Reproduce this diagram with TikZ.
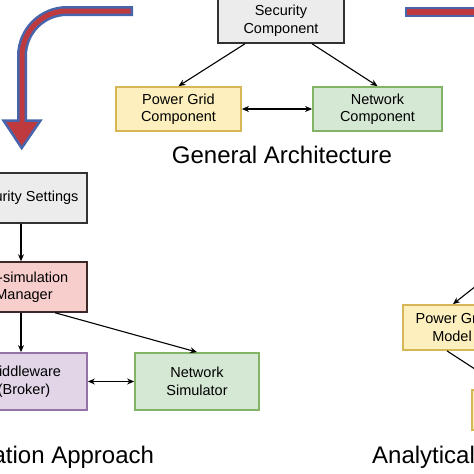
\documentclass[tikz,border=0pt]{standalone}
\usepackage{fontspec}
\setmainfont{Liberation Sans}
\usetikzlibrary{calc,arrows.meta}
\definecolor{graybg}{RGB}{236,236,236}
\definecolor{grayline}{RGB}{50,50,50}
\definecolor{yellowbg}{RGB}{253,240,190}
\definecolor{yellowline}{RGB}{214,182,86}
\definecolor{greenbg}{RGB}{213,232,212}
\definecolor{greenline}{RGB}{130,179,102}
\definecolor{pinkbg}{RGB}{248,206,204}
\definecolor{pinkline}{RGB}{60,40,40}
\definecolor{purplebg}{RGB}{225,213,231}
\definecolor{purpleline}{RGB}{150,115,166}
\definecolor{flowred}{RGB}{190,58,62}
\definecolor{flowblue}{RGB}{72,101,172}
\tikzset{
	comp/.style={inner sep=0, align=center, font=\fontsize{14.5}{17.5}\selectfont},
	graycomp/.style={comp, fill=graybg, draw=grayline, line width=1.5pt},
	yellowcomp/.style={comp, fill=yellowbg, draw=yellowline, line width=1.8pt},
	greencomp/.style={comp, fill=greenbg, draw=greenline, line width=1.8pt},
	pinkcomp/.style={comp, fill=pinkbg, draw=pinkline, line width=1.5pt},
	purplecomp/.style={comp, fill=purplebg, draw=purpleline, line width=1.8pt},
	link/.style={line width=1.1pt, -{Stealth[length=7pt,width=6pt]}},
	duallink/.style={line width=1.1pt, {Stealth[length=7pt,width=6pt]}-{Stealth[length=7pt,width=6pt]}},
	heading/.style={inner sep=0, font=\fontsize{24}{28}\selectfont},
}
\begin{document}
\begin{tikzpicture}[x=1pt, y=-1pt]
		%%%%% START %%%%%
		\useasboundingbox (0, 0) rectangle (474, 474);
		\clip (0, 0) rectangle (474, 474);
		
		% flow arrows
		\draw[line width=10pt, color=flowblue, rounded corners=45pt] (133, 11) -- (22, 11) -- (22, 121);
		\draw[line width=2.5pt, color=flowblue, fill=flowred, line join=miter] (3.5, 120.5) -- (40.5, 120.5) -- (21.7, 148) -- cycle;
		\draw[line width=5pt, color=flowred, rounded corners=45pt] (130.5, 11) -- (22, 11) -- (22, 124);
		
		\draw[line width=10pt, color=flowblue] (405, 12) -- (480, 12);
		\draw[line width=6pt, color=flowred] (407, 12) -- (480, 12);
		
		% general architecture
		\node[graycomp, minimum width=126pt, minimum height=44pt] (seccomp) at (281, 21) {Security\\Component};
		\node[yellowcomp, minimum width=125pt, minimum height=44pt] (pgcomp) at (178.5, 109) {Power Grid\\Component};
		\node[greencomp, minimum width=129pt, minimum height=44pt] (netcomp) at (377.5, 109) {Network\\Component};
		
		\draw[link] ($(seccomp.south)+(-36, 0)$) -- (pgcomp.north);
		\draw[link] ($(seccomp.south)+(31, 0)$) -- (netcomp.north);
		\draw[duallink] (pgcomp.east) -- (netcomp.west);
		
		\node[heading] (genlabel) at (282, 155) {General Architecture};
		
		% co-simulation approach
		\node[graycomp, minimum width=126pt, minimum height=50pt] (secset) at (24, 198) {Security Settings};
		\node[pinkcomp, minimum width=126pt, minimum height=50pt] (cosim) at (24, 287) {Co-simulation\\Manager};
		\node[purplecomp, minimum width=126pt, minimum height=57pt] (mware) at (24, 381.5) {Middleware\\(Broker)};
		\node[greencomp, minimum width=124pt, minimum height=57pt] (netsim) at (197, 381.5) {Network\\Simulator};
		
		\draw[link] ($(secset.south)+(-3, 0)$) -- ($(cosim.north)+(-3, 0)$);
		\draw[link] ($(cosim.south)+(-3, 0)$) -- ($(mware.north)+(-3, 0)$);
		\draw[link] ($(cosim.south)+(31, 0)$) -- (netsim.north);
		\draw[duallink] (mware.east) -- (netsim.west);
		
		\node[heading] (cosimlabel) at (26, 457) {Co-simulation Approach};
		
		% analytical approach
		\node[yellowcomp, minimum width=98pt, minimum height=45pt] (pgmodel) at (452, 327.5) {Power Grid\\Model};
		\node[yellowcomp, minimum width=96pt, minimum height=40pt] (anabox) at (520, 410) {};
		\coordinate (anatop) at (495, 271);
		\coordinate (anaright) at (501, 386);
		
		\draw[link] (anatop) -- ($(pgmodel.north)+(1, 0)$);
		\draw[line width=1.1pt] ($(pgmodel.south)+(-5, 0)$) -- (anaright);
		
		\node[heading, anchor=west] (analabel) at (372, 457) {Analytical Approach};
		%%%%% END %%%%%
	\end{tikzpicture}
\end{document}
